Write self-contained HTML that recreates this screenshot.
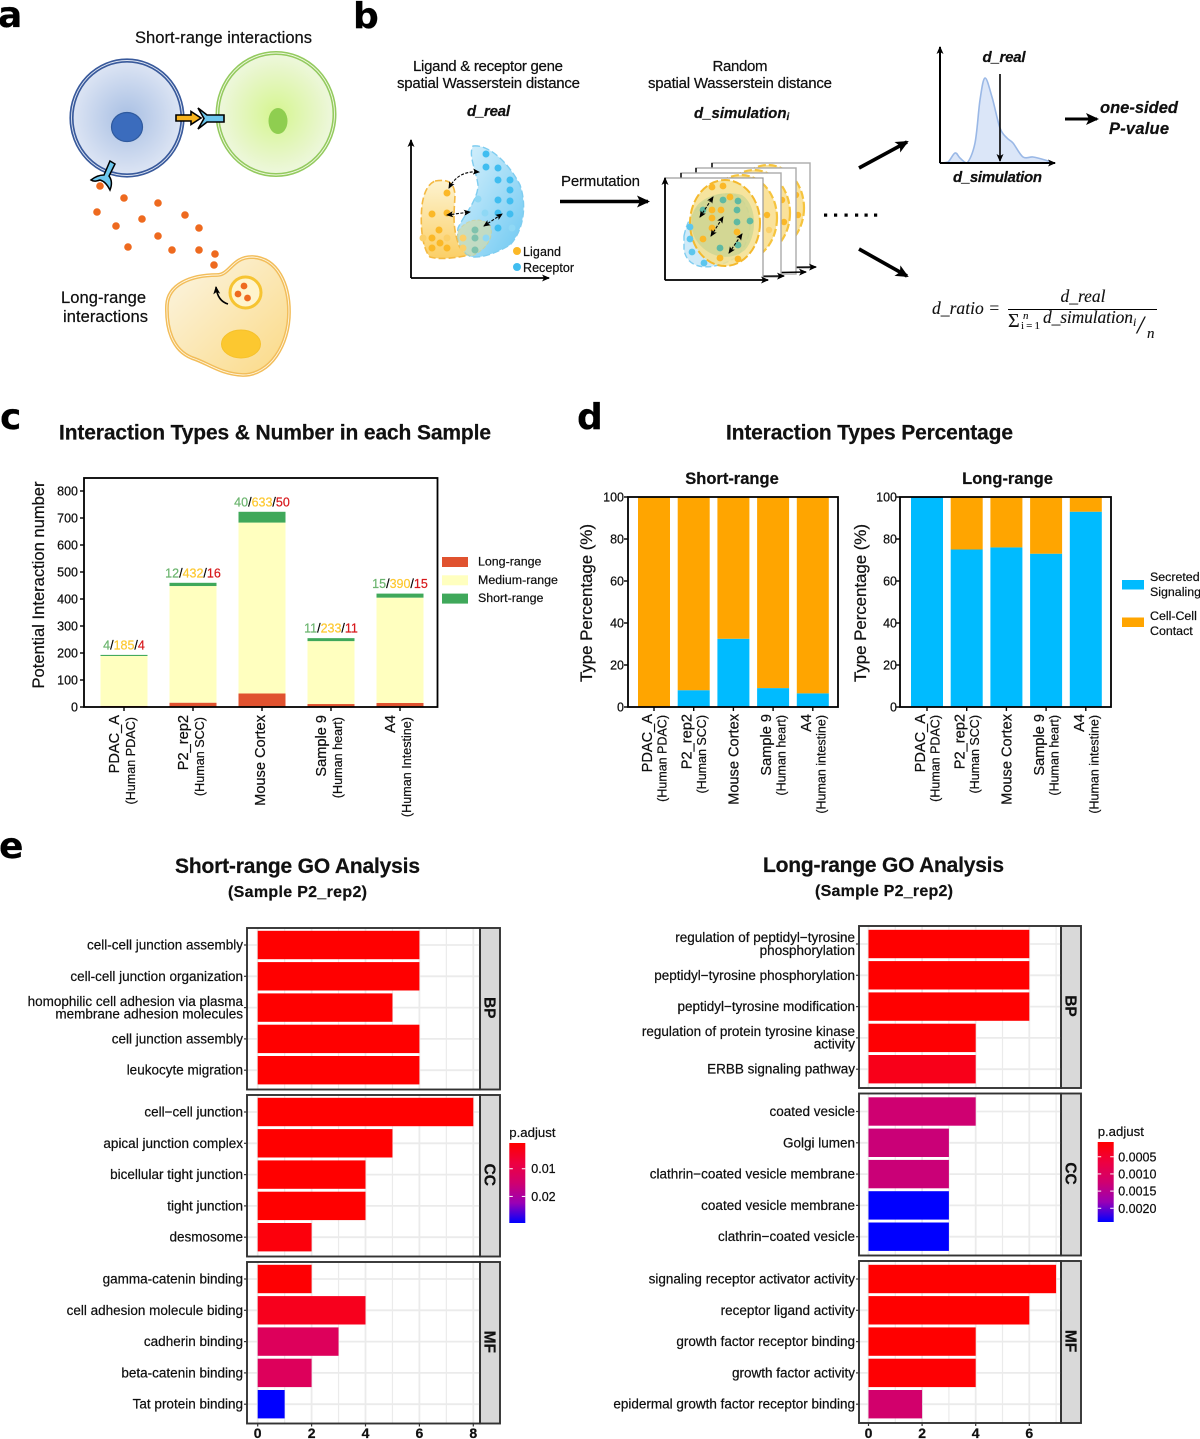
<!DOCTYPE html>
<html lang="en">
<head>
<meta charset="utf-8">
<title>Spatial interaction analysis figure</title>
<style>
html,body{margin:0;padding:0;background:#fff;width:1200px;height:1439px;overflow:hidden}
svg{display:block;font-family:"Liberation Sans",Arial,sans-serif;fill:#111;filter:blur(.3px)}
text{stroke:#000;stroke-width:.2}
text tspan.val{stroke:none}
.panel-letter{font-family:"DejaVu Sans",sans-serif;font-weight:700;font-size:36px;fill:#000}
.ill{font-size:16.5px}
.ib{font-size:15px;font-weight:700;font-style:italic}
.serif{font-family:"Liberation Serif",serif;font-style:italic;font-size:17.5px;stroke-width:.1}
.title{font-size:21px;font-weight:700}
</style>
</head>
<body>
<svg id="fig" xmlns="http://www.w3.org/2000/svg" width="1200" height="1439" viewBox="0 0 1200 1439">
<defs>
<marker id="ah" markerWidth="8" markerHeight="8" refX="7" refY="4" orient="auto" markerUnits="userSpaceOnUse"><path d="M0,0.5 L8,4 L0,7.5 L2,4Z" fill="#000"/></marker>
<marker id="ahb" markerWidth="14" markerHeight="14" refX="11" refY="7" orient="auto" markerUnits="userSpaceOnUse"><path d="M0,1 L13,7 L0,13 L3,7Z" fill="#000"/></marker>
<marker id="as" markerWidth="7" markerHeight="7" refX="6" refY="3.5" orient="auto-start-reverse" markerUnits="userSpaceOnUse"><path d="M0,0.5 L7,3.5 L0,6.5 L1.5,3.5Z" fill="#000"/></marker>
<radialGradient id="gBlue"><stop offset="0" stop-color="#a8bfe3"/><stop offset="1" stop-color="#dde5f4"/></radialGradient>
<radialGradient id="gGreen"><stop offset="0" stop-color="#d5f58f"/><stop offset="1" stop-color="#eef7de"/></radialGradient>
<linearGradient id="gYellow" x1="0" y1="0" x2="1" y2="1"><stop offset="0" stop-color="#fbf6e6"/><stop offset="1" stop-color="#fbd984"/></linearGradient>
<linearGradient id="gB1" x1="0" y1="0" x2="1" y2="1"><stop offset="0" stop-color="#dcf2fc"/><stop offset="1" stop-color="#6cc8f2"/></linearGradient>
<linearGradient id="gY1" x1="0" y1="0" x2="0" y2="1"><stop offset="0" stop-color="#fdf3d0"/><stop offset="1" stop-color="#fbcf66"/></linearGradient>
</defs>

<text class="panel-letter" x="-2" y="27">a</text>
<text class="panel-letter" x="353" y="28">b</text>
<text class="panel-letter" x="0" y="429">c</text>
<text class="panel-letter" x="577" y="429">d</text>
<text class="panel-letter" x="-1" y="858">e</text>

<!-- PANEL A -->
<g>
<text class="ill" x="223.5" y="43" text-anchor="middle" textLength="177">Short-range interactions</text>
<text class="ill" x="103.5" y="303" text-anchor="middle" textLength="85">Long-range</text>
<text class="ill" x="105.5" y="322" text-anchor="middle" textLength="85">interactions</text>
<g>
<ellipse cx="127" cy="118" rx="55.5" ry="57.5" fill="url(#gBlue)" stroke="#38599b" stroke-width="4.2"/>
<ellipse cx="127" cy="118" rx="55.5" ry="57.5" fill="none" stroke="#dfe6f3" stroke-width="0.9"/>
<ellipse cx="127" cy="127" rx="15.5" ry="14.5" fill="#3b6cbd" stroke="#2f5a9e" stroke-width="1.2"/>
</g>
<g>
<ellipse cx="276" cy="114" rx="58.5" ry="61" fill="url(#gGreen)" stroke="#93ca5e" stroke-width="4"/>
<ellipse cx="276" cy="114" rx="58.5" ry="61" fill="none" stroke="#f2f9e4" stroke-width="0.9"/>
<ellipse cx="278" cy="121" rx="9.5" ry="13" fill="#8fce50"/>
</g>
<path d="M176,115 L191,115 L191,111.5 L201,118 L191,124.5 L191,121 L176,121Z" fill="#f6b21d" stroke="#000" stroke-width="1.6"/>
<path d="M198,108 L207,115 L224,115 L224,122 L207,122 L198,129 L204,118.5Z" fill="#6cc7ee" stroke="#000" stroke-width="1.6"/>
<path d="M110,161 L115,164 L109,176 C112,180 112,185 110,190 C107,184 104,181 100,180 C97,181 94,182 91,180 C96,176 100,175 104,175Z" fill="#6cc7ee" stroke="#000" stroke-width="1.5"/>
<g fill="#ee6a1f">
<circle cx="100" cy="186" r="3.8"/><circle cx="124" cy="198" r="3.8"/><circle cx="158" cy="203" r="3.8"/><circle cx="185" cy="215" r="3.8"/><circle cx="97" cy="212" r="3.8"/><circle cx="142" cy="219" r="3.8"/><circle cx="199" cy="228" r="3.8"/><circle cx="116" cy="226" r="3.8"/><circle cx="158" cy="236" r="3.8"/><circle cx="128" cy="247" r="3.8"/><circle cx="172" cy="250" r="3.8"/><circle cx="199" cy="250" r="3.8"/><circle cx="215" cy="254" r="3.8"/><circle cx="214" cy="265" r="3.8"/>
</g>
<g>
<path d="M217,275 C230,275 232,257 252,257 C278,258 289,285 289,312 C289,345 270,375 243,375 C220,374 208,363 192,358 C172,350 166,328 167,305 C168,285 190,275 217,275Z" fill="url(#gYellow)" stroke="#f2bd5a" stroke-width="3.8"/>
<path d="M217,275 C230,275 232,257 252,257 C278,258 289,285 289,312 C289,345 270,375 243,375 C220,374 208,363 192,358 C172,350 166,328 167,305 C168,285 190,275 217,275Z" fill="none" stroke="#fff6e0" stroke-width="0.9"/>
<circle cx="245.500" cy="292.500" r="15.500" fill="#fff4cc" stroke="#f6c432" stroke-width="3"/>
<circle cx="244" cy="286" r="3.4" fill="#ee6a1f"/><circle cx="238" cy="294" r="3.4" fill="#ee6a1f"/><circle cx="247.500" cy="298" r="3.4" fill="#ee6a1f"/>
<path d="M228,304 C221,302 217,296 216,287" fill="none" stroke="#000" stroke-width="1.6" marker-end="url(#ah)"/>
<ellipse cx="241" cy="344" rx="19.500" ry="14" fill="#fcc830" stroke="#f6c12a"/>
</g>
</g>

<!-- PANEL B -->
<g>
<text class="ill" style="font-size:15px" x="488" y="71" text-anchor="middle" textLength="150">Ligand &amp; receptor gene</text>
<text class="ill" style="font-size:15px" x="488.500" y="88" text-anchor="middle" textLength="183">spatial Wasserstein distance</text>
<text class="ib" x="488.500" y="116" text-anchor="middle" textLength="43">d_real</text>
<text class="ill" style="font-size:15px" x="740" y="71" text-anchor="middle" textLength="55">Random</text>
<text class="ill" style="font-size:15px" x="740" y="88" text-anchor="middle" textLength="184">spatial Wasserstein distance</text>
<text class="ib" x="694" y="118">d_simulation<tspan font-size="10" dy="2">i</tspan></text>

<g>
<path d="M411,278 L411,140" stroke="#000" stroke-width="1.8" fill="none" marker-end="url(#ah)"/>
<path d="M411,278 L549,278" stroke="#000" stroke-width="1.8" fill="none" marker-end="url(#ah)"/>
<path d="M435,181 C448,179 454,182 455,195 C454,215 452,228 460,248 C464,253 468,255 470,255 C455,258 440,260 430,257 C422,248 420,225 422,205 C424,192 428,184 435,181Z" fill="url(#gY1)" stroke="#f4b942" stroke-width="1.6" stroke-dasharray="7 3"/>
<path d="M473,146 C490,144 510,165 520,185 C527,205 524,230 510,245 C498,252 484,258 472,257 C462,254 456,240 458,228 C464,215 478,200 478,185 C476,170 468,155 473,146Z" fill="url(#gB1)" stroke="#7fcdf0" stroke-width="1.4" stroke-dasharray="7 3"/>
<path d="M458,232 C465,219 482,216 490,226 C495,238 485,250 472,256 C462,254 456,242 458,232Z" fill="#cfdcb2" opacity=".75" stroke="#d8d08a" stroke-dasharray="4 2"/>
<g fill="#fbb827"><circle cx="447" cy="193" r="3.5"/><circle cx="432" cy="214" r="3.5"/><circle cx="447" cy="213" r="3.5"/><circle cx="439" cy="230" r="3.5"/><circle cx="432" cy="238" r="3.5"/><circle cx="440" cy="243" r="3.5"/><circle cx="432" cy="248" r="3.5"/><circle cx="447" cy="248" r="3.5"/></g>
<g fill="#fbd06a"><circle cx="423" cy="238" r="3.5"/><circle cx="447" cy="238" r="3.5"/><circle cx="463" cy="238" r="3.5"/><circle cx="463" cy="248" r="3.5"/></g>
<g fill="#40bdf0"><circle cx="486" cy="154" r="3.5"/><circle cx="486" cy="167" r="3.5"/><circle cx="498" cy="168" r="3.5"/><circle cx="498" cy="180" r="3.5"/><circle cx="510" cy="180" r="3.5"/><circle cx="510" cy="190" r="3.5"/><circle cx="498" cy="200" r="3.5"/><circle cx="510" cy="201" r="3.5"/><circle cx="498" cy="213" r="3.5"/><circle cx="510" cy="214" r="3.5"/><circle cx="498" cy="228" r="3.5"/></g>
<g fill="#8fd8f5"><circle cx="478" cy="199" r="3.5"/><circle cx="485" cy="213" r="3.5"/><circle cx="512" cy="228" r="3.5"/><circle cx="486" cy="238" r="3.5"/></g>
<g fill="#7fc2ad"><circle cx="475" cy="230" r="3.5"/><circle cx="475" cy="238" r="3.5"/><circle cx="475" cy="250" r="3.5"/></g>
<g fill="none" stroke="#000" stroke-width="1.1" stroke-dasharray="3 1.5">
<path d="M449,188 C456,175 466,171 479,172" marker-start="url(#as)" marker-end="url(#as)"/>
<path d="M447,215 L470,212" marker-start="url(#as)" marker-end="url(#as)"/>
<path d="M484,226 L502,214" marker-start="url(#as)" marker-end="url(#as)"/>
</g>
<circle cx="517" cy="251" r="4" fill="#fbb827"/><circle cx="517" cy="267" r="4" fill="#40bdf0"/>
<text x="523" y="256" font-size="12.500" textLength="38">Ligand</text>
<text x="523" y="272" font-size="12.500" textLength="51">Receptor</text>
</g>

<text class="ill" style="font-size:15px" x="561" y="186" textLength="79">Permutation</text>
<path d="M560,201.500 L648,201.500" stroke="#000" stroke-width="3.4" marker-end="url(#ahb)"/>

<g>
<g id="stack-backs">
<g><rect x="712" y="163" width="98" height="105" fill="#fff" stroke="#aaa" stroke-width="1.4"/><ellipse cx="768" cy="208" rx="36" ry="43" fill="#fae29b" stroke="#f6c43e" stroke-width="2.2" stroke-dasharray="8 3"/><circle cx="796" cy="195" r="3.2" fill="#fbb827"/><circle cx="798" cy="215" r="3.2" fill="#fbb827"/><path d="M712,163 L712,268 L816,267" fill="none" stroke="#000" stroke-width="1.4" marker-end="url(#ah)"/></g>
<g><rect x="696" y="168" width="100" height="106" fill="#fff" stroke="#aaa" stroke-width="1.4"/><ellipse cx="754" cy="213" rx="36" ry="43" fill="#fae29b" stroke="#f6c43e" stroke-width="2.2" stroke-dasharray="8 3"/><circle cx="782" cy="200" r="3.2" fill="#fbb827"/><circle cx="784" cy="222" r="3.2" fill="#fbb827"/><path d="M696,168 L696,274 L806,272" fill="none" stroke="#000" stroke-width="1.4" marker-end="url(#ah)"/></g>
<g><rect x="681" y="173" width="100" height="104" fill="#fff" stroke="#aaa" stroke-width="1.4"/><ellipse cx="741" cy="218" rx="36" ry="43" fill="#fae29b" stroke="#f6c43e" stroke-width="2.2" stroke-dasharray="8 3"/><circle cx="767" cy="215" r="3.2" fill="#fbb827"/><circle cx="769" cy="230" r="3.2" fill="#fbd06a"/><path d="M681,173 L681,277 L784,276" fill="none" stroke="#000" stroke-width="1.4" marker-end="url(#ah)"/></g>
</g>
<rect x="665" y="178" width="98" height="102" fill="#fff" stroke="#999" stroke-width="1.2"/>
<path d="M684,236 C690,205 715,190 735,195 C755,205 755,240 735,258 C715,270 688,272 684,250Z" fill="#cfeaf8" stroke="#7fcdf0" stroke-width="1.4" stroke-dasharray="6 3"/>
<ellipse cx="725" cy="223" rx="35" ry="43" fill="#f5df8d" fill-opacity=".85" stroke="#f4b92e" stroke-width="2" stroke-dasharray="9 3"/>
<path d="M694,210 C702,195 725,190 742,195 C757,205 758,235 745,250 C730,262 708,258 696,240 C690,230 690,218 694,210Z" fill="#bcd08c" opacity=".55"/>
<g fill="#fbb827"><circle cx="712" cy="187" r="3.4"/><circle cx="723" cy="186" r="3.4"/><circle cx="730" cy="197" r="3.4"/><circle cx="712" cy="210" r="3.4"/><circle cx="721" cy="210" r="3.4"/><circle cx="712" cy="218" r="3.4"/><circle cx="712" cy="228" r="3.4"/><circle cx="703" cy="239" r="3.4"/><circle cx="737" cy="232" r="3.4"/><circle cx="720" cy="258" r="3.4"/><circle cx="738" cy="259" r="3.4"/></g>
<g fill="#5fb9a2"><circle cx="723" cy="200" r="3.4"/><circle cx="738" cy="201" r="3.4"/><circle cx="737" cy="210" r="3.4"/><circle cx="703" cy="210" r="3.4"/><circle cx="737" cy="222" r="3.4"/><circle cx="750" cy="221" r="3.4"/><circle cx="738" cy="245" r="3.4"/><circle cx="720" cy="248" r="3.4"/></g>
<g fill="#5cc6ee"><circle cx="690" cy="227" r="3.4"/><circle cx="690" cy="239" r="3.4"/><circle cx="692" cy="252" r="3.4"/><circle cx="704" cy="263" r="3.4"/></g>
<g fill="none" stroke="#000" stroke-width="1.1" stroke-dasharray="3 1.5">
<path d="M700,217 L713,197" marker-start="url(#as)" marker-end="url(#as)"/>
<path d="M711,236 L723,217" marker-start="url(#as)" marker-end="url(#as)"/>
<path d="M729,253 L742,234" marker-start="url(#as)" marker-end="url(#as)"/>
</g>
<path d="M665,280 L665,178" stroke="#000" stroke-width="1.8" fill="none" marker-end="url(#ah)"/>
<path d="M665,280 L768,280" stroke="#000" stroke-width="1.8" fill="none" marker-end="url(#ah)"/>
</g>

<g fill="#000"><rect x="824" y="213.500" width="3.200" height="3.200"/><rect x="834" y="213.500" width="3.200" height="3.200"/><rect x="844.500" y="213.500" width="3.200" height="3.200"/><rect x="855" y="213.500" width="3.200" height="3.200"/><rect x="864.500" y="213.500" width="3.200" height="3.200"/><rect x="874" y="213.500" width="3.200" height="3.200"/></g>
<path d="M859,168 L907,142" stroke="#000" stroke-width="3.6" marker-end="url(#ahb)"/>
<path d="M859,249 L907,276" stroke="#000" stroke-width="3.6" marker-end="url(#ahb)"/>

<g id="density-group"></g>
<path d="M940,163 L940,47" stroke="#000" stroke-width="2" fill="none" marker-end="url(#ah)"/>
<path d="M940,163 L1055,163" stroke="#000" stroke-width="2" fill="none" marker-end="url(#ah)"/>
<path d="M1000,74 L1000,161" stroke="#000" stroke-width="1.6" fill="none" marker-end="url(#ah)"/>
<text class="ib" x="1004" y="62" text-anchor="middle" textLength="43">d_real</text>
<text class="ib" x="997.500" y="182" text-anchor="middle" textLength="89">d_simulation</text>
<path d="M1065,119 L1097,119" stroke="#000" stroke-width="3" marker-end="url(#ahb)"/>
<text class="ib" style="font-size:16.5px" x="1139" y="113" text-anchor="middle" textLength="78">one-sided</text>
<text class="ib" style="font-size:16.5px" x="1139" y="134" text-anchor="middle" textLength="60">P-value</text>

<g>
<text class="serif" x="932" y="314" textLength="68">d_ratio =</text>
<text class="serif" x="1083" y="302" text-anchor="middle" textLength="45">d_real</text>
<line x1="1008" y1="309.500" x2="1157" y2="309.500" stroke="#000" stroke-width="1.1"/>
<text class="serif" x="1008" y="327" style="font-size:20px;font-style:normal">Σ</text>
<text class="serif" x="1023" y="319" style="font-size:11px">n</text>
<text class="serif" x="1021" y="329" style="font-size:11px;font-style:normal" textLength="19">i=1</text>
<text class="serif" x="1043" y="323" textLength="90">d_simulation</text>
<text class="serif" x="1133" y="326" style="font-size:12px">i</text>
<text class="serif" x="1137" y="333" style="font-size:25px">/</text>
<text class="serif" x="1147" y="338" style="font-size:15px">n</text>
</g>
</g>

<!-- CHART TITLES -->
<text class="title" x="275" y="439.500" text-anchor="middle" textLength="432">Interaction Types &amp; Number in each Sample</text>
<text class="title" x="869.500" y="439.500" text-anchor="middle" textLength="287">Interaction Types Percentage</text>
<text x="297.500" y="873" text-anchor="middle" font-size="21" font-weight="700" textLength="245">Short-range GO Analysis</text>
<text x="297.500" y="897" text-anchor="middle" font-size="16" font-weight="700" textLength="139">(Sample P2_rep2)</text>
<text x="883.500" y="872" text-anchor="middle" font-size="21" font-weight="700" textLength="241">Long-range GO Analysis</text>
<text x="884" y="896" text-anchor="middle" font-size="16" font-weight="700" textLength="138">(Sample P2_rep2)</text>

<g id="chart-c"></g>
<g id="chart-d-short"></g>
<g id="chart-d-long"></g>
<g id="chart-e-short"></g>
<g id="chart-e-long"></g>
</svg>

<script>
// ---------- Chart data ----------
const sampleNames = ['PDAC_A', 'P2_rep2', 'Mouse Cortex', 'Sample 9', 'A4'];
const sampleTissues = ['(Human PDAC)', '(Human SCC)', '', '(Human heart)', '(Human Intestine)'];
const sampleTissuesLower = ['(Human PDAC)', '(Human SCC)', '', '(Human heart)', '(Human intestine)'];
const shortCounts = [4, 12, 40, 11, 15];
const mediumCounts = [185, 432, 633, 233, 390];
const longCounts = [4, 16, 50, 11, 15];
const countTicks = [0, 100, 200, 300, 400, 500, 600, 700, 800];
const percentTicks = [0, 20, 40, 60, 80, 100];
const secretedShortPct = [0, 8, 32.5, 9, 6.5];
const secretedLongPct = [100, 75, 76, 73, 93];
const facetNames = ['BP', 'CC', 'MF'];
const shortTerms = [
  ['cell-cell junction assembly', 'cell-cell junction organization', 'homophilic cell adhesion via plasma\nmembrane adhesion molecules', 'cell junction assembly', 'leukocyte migration'],
  ['cell\u2212cell junction', 'apical junction complex', 'bicellular tight junction', 'tight junction', 'desmosome'],
  ['gamma-catenin binding', 'cell adhesion molecule biding', 'cadherin binding', 'beta-catenin binding', 'Tat protein binding']
];
const shortGeneCounts = [[6, 6, 5, 6, 6], [8, 5, 4, 4, 2], [2, 4, 3, 2, 1]];
const shortPadj = [[0.0007, 0.0007, 0.0007, 0.0007, 0.0007], [0.0007, 0.0007, 0.0007, 0.0007, 0.002], [0.001, 0.004, 0.012, 0.012, 0.0296]];
const shortGoTicks = [0, 2, 4, 6, 8];
const shortLegendTicks = [0.01, 0.02];
const longTerms = [
  ['regulation of peptidyl\u2212tyrosine\nphosphorylation', 'peptidyl\u2212tyrosine phosphorylation', 'peptidyl\u2212tyrosine modification', 'regulation of protein tyrosine kinase\nactivity', 'ERBB signaling pathway'],
  ['coated vesicle', 'Golgi lumen', 'clathrin\u2212coated vesicle membrane', 'coated vesicle membrane', 'clathrin\u2212coated vesicle'],
  ['signaling receptor activator activity', 'receptor ligand activity', 'growth factor receptor binding', 'growth factor activity', 'epidermal growth factor receptor binding']
];
const longGeneCounts = [[6, 6, 6, 4, 4], [4, 3, 3, 3, 3], [7, 6, 4, 4, 2]];
const longPadj = [[0.00007, 0.00007, 0.00007, 0.0001, 0.0003], [0.00125, 0.0013, 0.0013, 0.0024, 0.0024], [0.00007, 0.00007, 0.00007, 0.0001, 0.0012]];
const longGoTicks = [0, 2, 4, 6];
const longLegendTicks = [0.0005, 0.001, 0.0015, 0.002];
const densityGrid = [0, 8, 15, 20, 27, 35, 40, 45, 52, 60, 67, 73, 83, 93, 105, 113];
const densityHeight = [0, 1, 10, 5, 0, 20, 63, 85, 66, 35, 25, 20, 6, 6, 3, 0];

const NS = 'http://www.w3.org/2000/svg';
function make(parent, tag, attrs) {
  const el = document.createElementNS(NS, tag);
  for (const k in attrs) el.setAttribute(k, attrs[k]);
  parent.appendChild(el);
  return el;
}
function label(parent, x, y, str, size, opts) {
  const el = make(parent, 'text', Object.assign({ x: x, y: y, 'font-size': size }, opts || {}));
  el.textContent = str;
  return el;
}
function rotatedLabel(parent, x, y, str, size, anchor) {
  const el = make(parent, 'text', { transform: 'translate(' + x + ',' + y + ') rotate(-90)', 'font-size': size, 'text-anchor': anchor });
  el.textContent = str;
  return el;
}

// ---------- Density sketch ----------
(function () {
  const g = document.getElementById('density-group');
  const dx = v => 940 + v;
  const dy = v => 163 - v;
  const pts = densityGrid.map((v, i) => [dx(v), dy(densityHeight[i])]);
  let d = 'M' + pts[0][0] + ',' + pts[0][1];
  for (let i = 0; i < pts.length - 1; i++) {
    const p0 = pts[Math.max(i - 1, 0)], p1 = pts[i], p2 = pts[i + 1], p3 = pts[Math.min(i + 2, pts.length - 1)];
    const c1 = [p1[0] + (p2[0] - p0[0]) / 6, Math.min(163, p1[1] + (p2[1] - p0[1]) / 6)];
    const c2 = [p2[0] - (p3[0] - p1[0]) / 6, Math.min(163, p2[1] - (p3[1] - p1[1]) / 6)];
    d += ' C' + c1[0] + ',' + c1[1] + ' ' + c2[0] + ',' + c2[1] + ' ' + p2[0] + ',' + p2[1];
  }
  const curve = make(g, 'path', { d: d + 'Z', fill: '#dbe6f8', stroke: '#9ab8e6', 'stroke-width': 1.6, 'stroke-linejoin': 'round' });
  
  
})();

// ---------- Chart C ----------
(function () {
  const g = document.getElementById('chart-c');
  const xCenter = i => 124 + i * 69;
  const yCount = v => 707 - v * 0.27;
  const barW = 47;
  sampleNames.forEach((name, i) => {
    const segs = [
      ['long', longCounts[i], 0, '#e0522f'],
      ['medium', mediumCounts[i], longCounts[i], '#ffffbf'],
      ['short', shortCounts[i], longCounts[i] + mediumCounts[i], '#3fa85a']
    ];
    segs.forEach(s => {
      const r = make(g, 'rect', { x: xCenter(i) - barW / 2, y: yCount(s[2] + s[1]), width: barW, height: s[1] * 0.27, fill: s[3] });
      
      
    });
    const total = shortCounts[i] + mediumCounts[i] + longCounts[i];
    const vl = make(g, 'text', { x: xCenter(i), y: yCount(total) - 5.5, 'font-size': 12.5, 'text-anchor': 'middle' });
    
    
    const parts = [[shortCounts[i], '#6cb56f'], ['/', '#000'], [mediumCounts[i], '#fdc82f'], ['/', '#000'], [longCounts[i], '#d7191c']];
    parts.forEach(p => {
      const t = make(vl, 'tspan', { fill: p[1], stroke: p[1] });
      t.textContent = p[0];
    });
    const tk = make(g, 'line', { x1: xCenter(i), x2: xCenter(i), y1: 707, y2: 711, stroke: '#000', 'stroke-width': 1.4 });
    
    
    const two = sampleTissues[i] !== '';
    const m = rotatedLabel(g, xCenter(i) + (two ? -5 : 3), 715, name, 14.6, 'end');
    
    
    if (two) {
      const s = rotatedLabel(g, xCenter(i) + 11, 717, sampleTissues[i], 12.6, 'end');
      
      
    }
  });
  countTicks.forEach(v => {
    const tk = make(g, 'line', { x1: 80, x2: 84, y1: yCount(v), y2: yCount(v), stroke: '#000', 'stroke-width': 1.4 });
    
    
    const t = label(g, 78, yCount(v) + 4.5, v, 12.5, { 'text-anchor': 'end' });
    
    
  });
  const frame = make(g, 'rect', { x: 84, y: 478, width: 353.5, height: 229, fill: 'none', stroke: '#000', 'stroke-width': 1.8 });
  
  
  const yt = rotatedLabel(g, 44, 585, 'Potential Interaction number', 16.5, 'middle');
  yt.setAttribute('textLength', 207);
  
  
  [['Long-range', '#e0522f'], ['Medium-range', '#ffffbf'], ['Short-range', '#3fa85a']].forEach((e, i) => {
    const top = 557 + i * 18.3;
    const sw = make(g, 'rect', { x: 442, y: top, width: 26, height: 10, fill: e[1] });
    
    
    const t = label(g, 478, top + 8.5, e[0], 12.4);
    
    
  });
})();

// ---------- Chart D ----------
function percentChart(id, left, right, firstCenter, values, title, titleX, tickRight, titleAxisX) {
  const g = document.getElementById(id);
  const xC = i => firstCenter + i * 39.7;
  const yP = v => 707 - v * 2.1;
  const w = 32;
  sampleNames.forEach((name, i) => {
    const blue = make(g, 'rect', { x: xC(i) - w / 2, y: yP(values[i]), width: w, height: values[i] * 2.1, fill: '#00bbff' });
    
    
    const org = make(g, 'rect', { x: xC(i) - w / 2, y: yP(100), width: w, height: (100 - values[i]) * 2.1, fill: '#ffa500' });
    
    
    const tk = make(g, 'line', { x1: xC(i), x2: xC(i), y1: 707, y2: 711, stroke: '#000', 'stroke-width': 1.4 });
    
    
    const two = sampleTissuesLower[i] !== '';
    const m = rotatedLabel(g, xC(i) + (two ? -2 : 5), 714, name, 14.6, 'end');
    
    
    if (two) {
      const s = rotatedLabel(g, xC(i) + 12.5, 715, sampleTissuesLower[i], 12.5, 'end');
      
      
    }
  });
  percentTicks.forEach(v => {
    const tk = make(g, 'line', { x1: left - 4, x2: left, y1: yP(v), y2: yP(v), stroke: '#000', 'stroke-width': 1.4 });
    
    
    const t = label(g, tickRight, yP(v) + 4.5, v, 12.5, { 'text-anchor': 'end' });
    
    
  });
  const frame = make(g, 'rect', { x: left, y: 497, width: right - left, height: 210, fill: 'none', stroke: '#000', 'stroke-width': 1.8 });
  
  
  const yt = rotatedLabel(g, titleAxisX, 603, 'Type Percentage (%)', 17, 'middle');
  yt.setAttribute('textLength', 158);
  
  
  const tt = label(g, titleX, 484, title, 16.5, { 'text-anchor': 'middle', 'font-weight': 700 });
  
  
}
percentChart('chart-d-short', 628, 838, 654, secretedShortPct, 'Short-range', 732, 624, 592);
percentChart('chart-d-long', 900, 1111, 927, secretedLongPct, 'Long-range', 1007.5, 897, 866);
(function () {
  const g = document.getElementById('chart-d-long');
  const rows = [['#00bbff', 580, 'Secreted', 'Signaling', 581, 596], ['#ffa500', 617.5, 'Cell-Cell', 'Contact', 620, 635]];
  rows.forEach((r, i) => {
    const sw = make(g, 'rect', { x: 1122, y: r[1], width: 22, height: 9.5, fill: r[0] });
    
    
    const a = label(g, 1150, r[4], r[2], 12.4);
    
    
    const b = label(g, 1150, r[5], r[3], 12.4);
    
    
  });
})();

// ---------- Chart E ----------
const colorStops = [[0, [255, 0, 0]], [0.25, [238, 0, 64]], [0.5, [208, 0, 111]], [0.75, [154, 0, 181]], [1, [0, 0, 255]]];
function rampColor(t) {
  t = Math.max(0, Math.min(1, t));
  for (let i = 1; i < colorStops.length; i++) {
    if (t <= colorStops[i][0]) {
      const a = colorStops[i - 1], b = colorStops[i];
      const f = (t - a[0]) / (b[0] - a[0]);
      const c = a[1].map((v, j) => Math.round(v + (b[1][j] - v) * f));
      return 'rgb(' + c.join(',') + ')';
    }
  }
  return 'rgb(0,0,255)';
}
function goChart(cfg) {
  const g = document.getElementById(cfg.id);
  const xV = v => cfg.x0 + v * cfg.unit;
  const pT = p => (p - cfg.pMin) / (cfg.pMax - cfg.pMin);
  cfg.terms.forEach((terms, f) => {
    const top = cfg.top + f * cfg.step;
    const bg = make(g, 'rect', { x: cfg.left, y: top, width: cfg.right - cfg.left, height: cfg.h, fill: '#fff' });
    
    
    for (let v = 0; xV(v) < cfg.right; v++) {
      const gl = make(g, 'line', { x1: xV(v), x2: xV(v), y1: top, y2: top + cfg.h, stroke: '#ebebeb', 'stroke-width': v % 2 ? 1.2 : 1.8 });
      
      
    }
    const strip = make(g, 'rect', { x: cfg.right, y: top, width: cfg.strip, height: cfg.h, fill: '#d9d9d9', stroke: '#333', 'stroke-width': 1.9 });
    
    
    const st = make(g, 'text', { transform: 'translate(' + (cfg.right + cfg.strip / 2 - 5.5) + ',' + (top + cfg.h / 2 - 1) + ') rotate(90)', 'font-size': 15.5, 'font-weight': 700, 'text-anchor': 'middle' });
    st.textContent = facetNames[f];
    
    
    terms.forEach((term, j) => {
      const cy = top + cfg.pad + j * 31.3;
      const hl = make(g, 'line', { x1: cfg.left, x2: cfg.right, y1: cy, y2: cy, stroke: '#ebebeb', 'stroke-width': 1.8 });
      
      
      const bar = make(g, 'rect', { x: xV(0), y: cy - 14.2, width: cfg.counts[f][j] * cfg.unit, height: 28.4, fill: rampColor(pT(cfg.padj[f][j])) });
      
      
      const tk = make(g, 'line', { x1: cfg.left - 3, x2: cfg.left, y1: cy, y2: cy, stroke: '#333', 'stroke-width': 1.2 });
      
      
      const lines = term.split('\n');
      lines.forEach((ln, k) => {
        const by = cy + 4.5 + (lines.length === 2 ? (k === 0 ? -6.3 : 6.3) : 0);
        const t = label(g, cfg.left - 4, by, ln, 13.5, { 'text-anchor': 'end' });
        
        
      });
    });
    const fr = make(g, 'rect', { x: cfg.left, y: top, width: cfg.right - cfg.left, height: cfg.h, fill: 'none', stroke: '#333', 'stroke-width': 1.9 });
    
    
  });
  const bottom = cfg.top + 2 * cfg.step + cfg.h;
  cfg.ticks.forEach(v => {
    const tk = make(g, 'line', { x1: xV(v), x2: xV(v), y1: bottom, y2: bottom + 3, stroke: '#333', 'stroke-width': 1.2 });
    
    
    const t = label(g, xV(v), 1438, v, 14, { 'text-anchor': 'middle', 'font-weight': 700 });
    
    
  });
  // colour legend
  const gradId = cfg.id + '-grad';
  const defs = make(g, 'defs', {});
  const lg = make(defs, 'linearGradient', { id: gradId, x1: 0, y1: 0, x2: 0, y2: 1 });
  colorStops.forEach(s => {
    make(lg, 'stop', { offset: s[0], 'stop-color': 'rgb(' + s[1].join(',') + ')' });
  });
  const lt = label(g, cfg.legX, cfg.legY - 6, 'p.adjust', 13.2);
  
  
  const bar = make(g, 'rect', { x: cfg.legX, y: cfg.legY, width: 16, height: cfg.legH, fill: 'url(#' + gradId + ')' });
  
  
  cfg.legendTicks.forEach(v => {
    const ty = cfg.legY + pT(v) * cfg.legH;
    const a = make(g, 'line', { x1: cfg.legX, x2: cfg.legX + 3.5, y1: ty, y2: ty, stroke: '#fff', 'stroke-width': 1 });
    
    
    const b = make(g, 'line', { x1: cfg.legX + 12.5, x2: cfg.legX + 16, y1: ty, y2: ty, stroke: '#fff', 'stroke-width': 1 });
    
    
    const t = label(g, cfg.legX + cfg.legDx, ty + 4.5, cfg.fmt(v), 12.5);
    
    
  });
}
goChart({ id: 'chart-e-short', terms: shortTerms, counts: shortGeneCounts, padj: shortPadj, ticks: shortGoTicks, legendTicks: shortLegendTicks,
  left: 247, right: 480, strip: 20, top: 928, step: 167, h: 161.5, pad: 17, x0: 257.7, unit: 26.95,
  pMin: 0.0007, pMax: 0.0296, legX: 509.3, legY: 1143, legH: 80, legDx: 22, fmt: v => v.toFixed(2) });
goChart({ id: 'chart-e-long', terms: longTerms, counts: longGeneCounts, padj: longPadj, ticks: longGoTicks, legendTicks: longLegendTicks,
  left: 859, right: 1061, strip: 20, top: 926, step: 167.5, h: 162, pad: 18, x0: 868.5, unit: 26.8,
  pMin: 0.00007, pMax: 0.0024, legX: 1097.7, legY: 1142, legH: 80, legDx: 20.5, fmt: v => v.toFixed(4) });
</script>
</body>
</html>
